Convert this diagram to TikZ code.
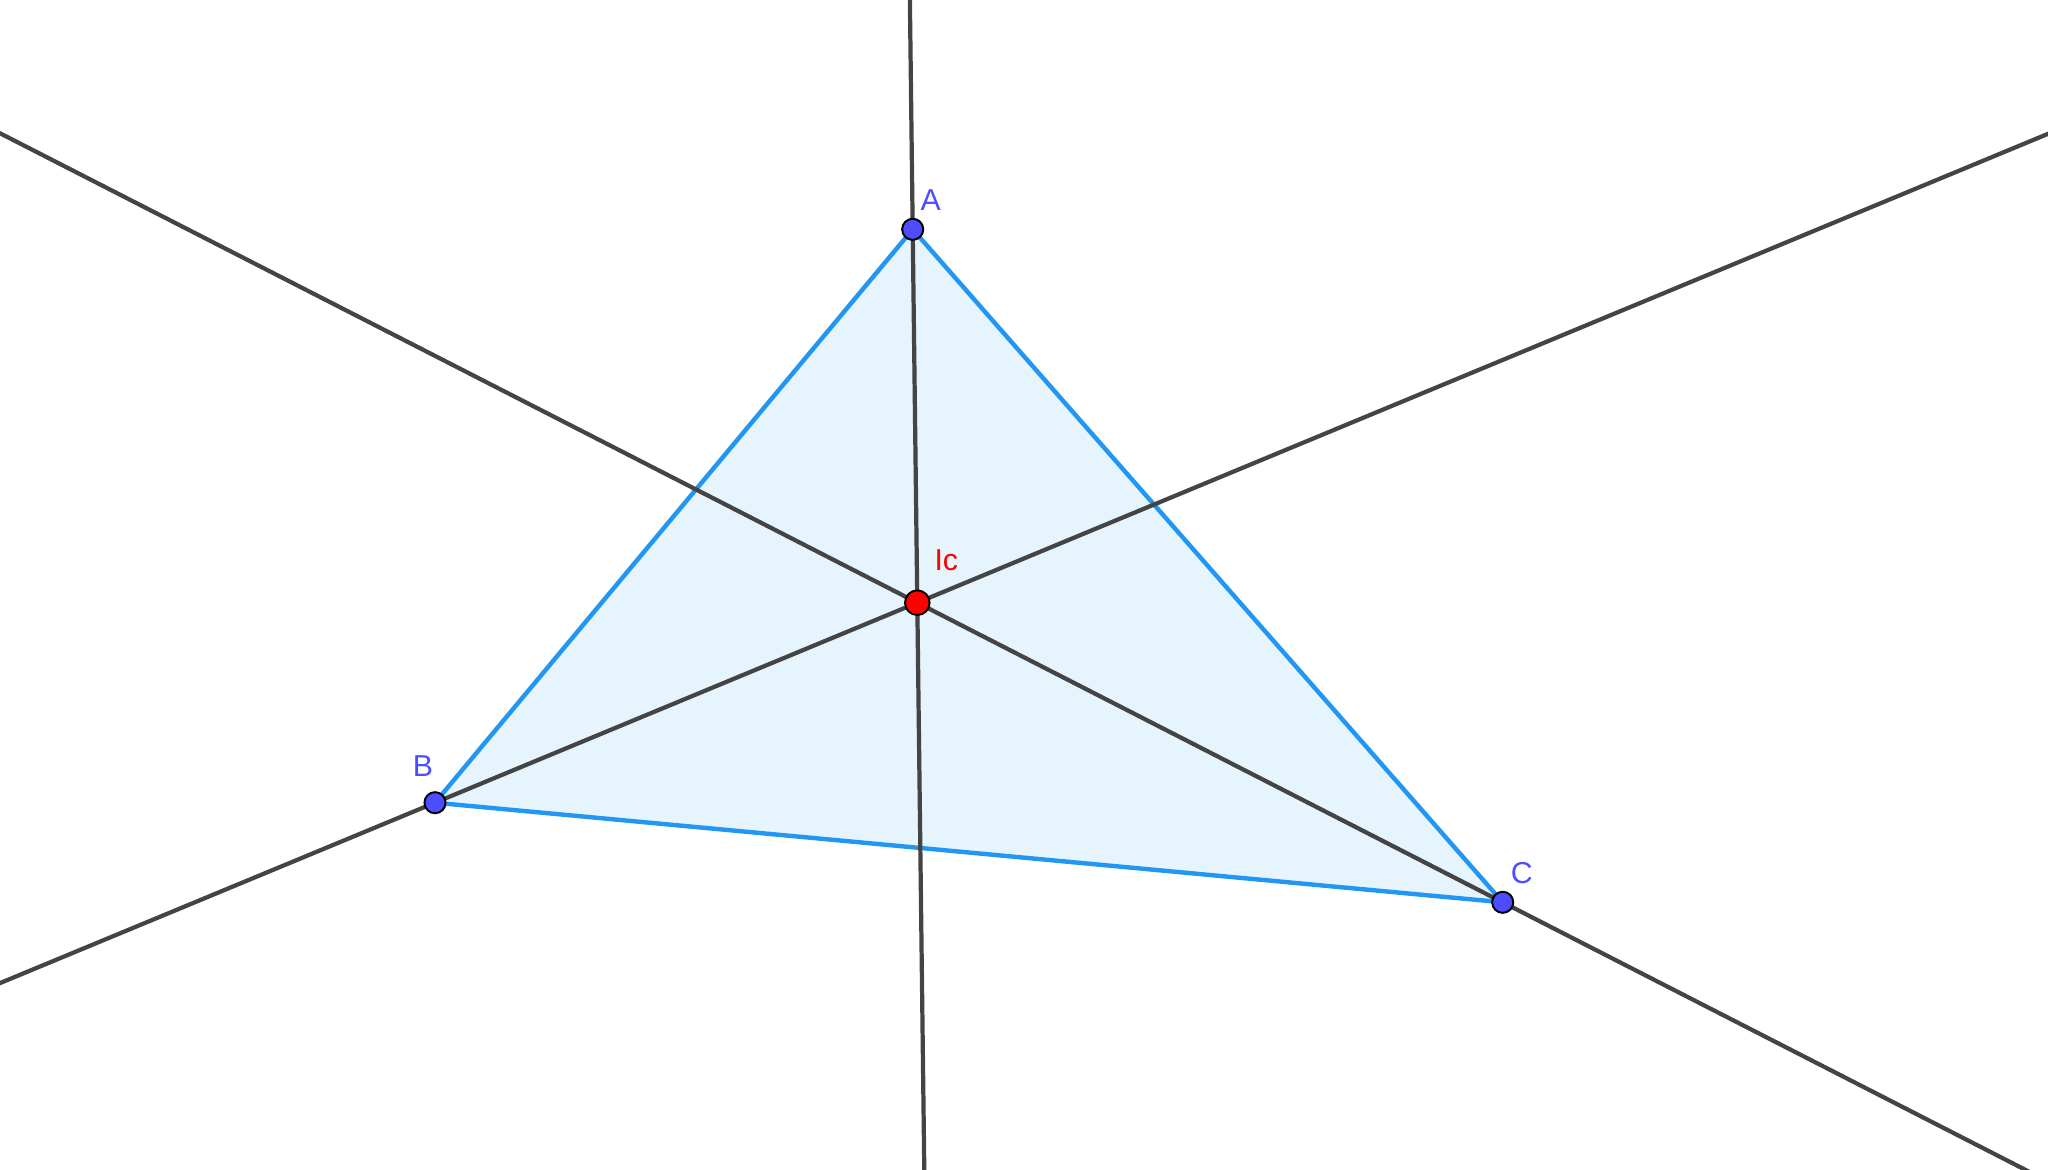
\documentclass[tikz,border=0pt]{standalone}
\usepackage{fontspec}
\setmainfont{Liberation Sans}
\usetikzlibrary{calc}
\definecolor{ptblue}{HTML}{4D4DFF}
\definecolor{edgeblue}{HTML}{2196F3}
\definecolor{fillblue}{HTML}{E6F4FD}
\definecolor{linegray}{HTML}{444444}
\tikzset{
  edge/.style={draw=edgeblue,line width=1.25pt},
  bis/.style={draw=linegray,line width=1.2pt},
  pt/.style={circle,fill=ptblue,draw=black,line width=0.55pt,inner sep=0pt,minimum size=6pt},
  ipt/.style={circle,fill=red,draw=black,line width=0.55pt,inner sep=0pt,minimum size=7pt},
  lbl/.style={font=\fontsize{8.6}{10}\selectfont,text=ptblue,inner sep=0pt},
}
\begin{document}
\begin{tikzpicture}[x=0.01cm,y=-0.01cm]
\useasboundingbox (0,0) rectangle (2048,1169);
\coordinate (A) at (912.7,229.3);
\coordinate (B) at (435,802.7);
\coordinate (C) at (1502.7,902.3);
\coordinate (I) at (917.3,602.7);
\fill[fillblue] (A) -- (B) -- (C) -- cycle;
\draw[edge] (A) -- (B);
\draw[edge] (B) -- (C);
\draw[edge] (C) -- (A);
\begin{scope}
\clip (0,0) rectangle (2048,1169);
\draw[bis] ($(A)!-4!(I)$) -- ($(A)!6!(I)$);
\draw[bis] ($(B)!-4!(I)$) -- ($(B)!6!(I)$);
\draw[bis] ($(C)!-4!(I)$) -- ($(C)!6!(I)$);
\end{scope}
\node[pt] (pA) at (A) {};
\node[pt] (pB) at (B) {};
\node[pt] (pC) at (C) {};
\node[ipt] (pI) at (I) {};
\node[lbl] (lA) at ($(A)+(18,-29)$) {A};
\node[lbl] (lB) at ($(B)+(-12,-37)$) {B};
\node[lbl] (lC) at ($(C)+(19,-29)$) {C};
\node[lbl,text=red] (lI) at ($(I)+(29,-42)$) {Ic};
\end{tikzpicture}
\end{document}
